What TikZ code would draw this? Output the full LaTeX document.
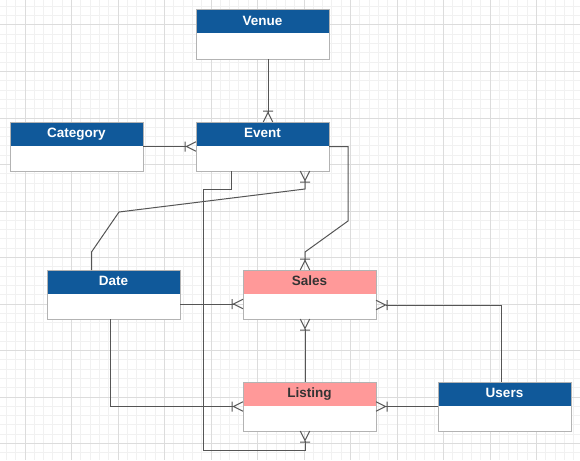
\documentclass[tikz,border=0pt]{standalone}
\usepackage{fontspec}
\setmainfont{Liberation Sans}
\usetikzlibrary{arrows.meta}

\definecolor{hdrblue}{HTML}{10599A}
\definecolor{hdrpink}{HTML}{FF9999}
\definecolor{boxline}{HTML}{B3B3B3}
\definecolor{connline}{HTML}{555555}
\definecolor{gridminor}{HTML}{F1F1F1}
\definecolor{gridmajor}{HTML}{DCDCDC}
\definecolor{darktext}{HTML}{333333}

\pgfdeclarearrow{
  name = ERmany,
  setup code = {
    \pgfarrowssettipend{0pt}
    \pgfarrowssetlineend{-9.5pt}
    \pgfarrowssetbackend{-11.5pt}
    \pgfarrowsupperhullpoint{0pt}{5pt}
    \pgfarrowsupperhullpoint{-11.5pt}{5pt}
  },
  drawing code = {
    \pgfsetdash{}{0pt}
    \pgfpathmoveto{\pgfpoint{0pt}{4.7pt}}
    \pgfpathlineto{\pgfpoint{-9.5pt}{0pt}}
    \pgfpathlineto{\pgfpoint{0pt}{-4.7pt}}
    \pgfpathmoveto{\pgfpoint{-11pt}{5pt}}
    \pgfpathlineto{\pgfpoint{-11pt}{-5pt}}
    \pgfusepathqstroke
  }
}

\tikzset{
  entbox/.style={draw=boxline, fill=white, line width=1pt, minimum width=133pt,
    minimum height=49pt, inner sep=0pt, outer sep=0pt, rectangle},
  hdrtext/.style={anchor=base, inner sep=0pt, font=\fontsize{13.5pt}{16pt}\selectfont\bfseries},
  conn/.style={draw=connline, line width=1pt},
  many/.style={conn, -{ERmany}},
  minorline/.style={draw=gridminor, line width=1pt},
  majorline/.style={draw=gridmajor, line width=1pt},
}

\newcommand{\erentity}[6]{%
  \node[entbox, anchor=north west] (#1) at (#2,#3) {};
  \fill[#5] ([shift={(0.5pt,-0.5pt)}]#1.north west) rectangle ([shift={(-0.5pt,-23.5pt)}]#1.north east);
  \draw[boxline, line width=1pt] (#1.north west) rectangle (#1.south east);
  \node[hdrtext, text=#6] (#1-label) at ([yshift=-15.7pt]#1.north) {#4};
}

\begin{document}
\begin{tikzpicture}[x=1pt, y=-1pt]
\useasboundingbox (0,0) rectangle (580,460);
\fill[white] (0,0) rectangle (580,460);
% grid
\foreach \i in {0,...,61} { \draw[minorline] ({6.4+9.3*\i},0) -- ({6.4+9.3*\i},460); }
\foreach \i in {0,...,48} { \draw[minorline] (0,{6.4+9.3*\i}) -- (580,{6.4+9.3*\i}); }
\foreach \i in {0,...,11} { \draw[majorline] ({25+46.5*\i},0) -- ({25+46.5*\i},460); }
\foreach \i in {0,...,9} { \draw[majorline] (0,{25+46.5*\i}) -- (580,{25+46.5*\i}); }

% entities
\erentity{venue}{196}{10}{Venue}{hdrblue}{white}
\erentity{event}{196}{122}{Event}{hdrblue}{white}
\erentity{category}{10}{122}{Category}{hdrblue}{white}
\erentity{date}{47}{270}{Date}{hdrblue}{white}
\erentity{sales}{243}{270}{Sales}{hdrpink}{darktext}
\erentity{listing}{243}{382}{Listing}{hdrpink}{darktext}
\erentity{users}{438}{382}{Users}{hdrblue}{white}

% connectors
\draw[many] ([xshift=5.5pt]venue.south) -- ([xshift=5.5pt]event.north);
\draw[many] (category.east) -- (event.west);
\draw[many] (event.east) -- (348,146.5) -- (348,221) -- (305,252) -- ([xshift=-4.5pt]sales.north);
\draw[many] ([xshift=-22pt]date.north) -- (91.5,252) -- (119,212) -- (305,189) -- ([xshift=42.5pt]event.south);
\draw[many] ([xshift=-31.5pt]event.south) -- (231,189) -- (203,189) -- (203,450) -- (305,450) -- ([xshift=-4.5pt]listing.south);
\draw[many] ([yshift=-9.5pt]date.east) -- ([yshift=-9.5pt]sales.west);
\draw[many] ([xshift=-3pt]date.south) |- (listing.west);
\draw[many] ([xshift=-4.5pt]listing.north) -- ([xshift=-4.5pt]sales.south);
\draw[many] ([xshift=-3.5pt]users.north) |- ([yshift=-10.5pt]sales.east);
\draw[many] (users.west) -- (listing.east);
\end{tikzpicture}
\end{document}
